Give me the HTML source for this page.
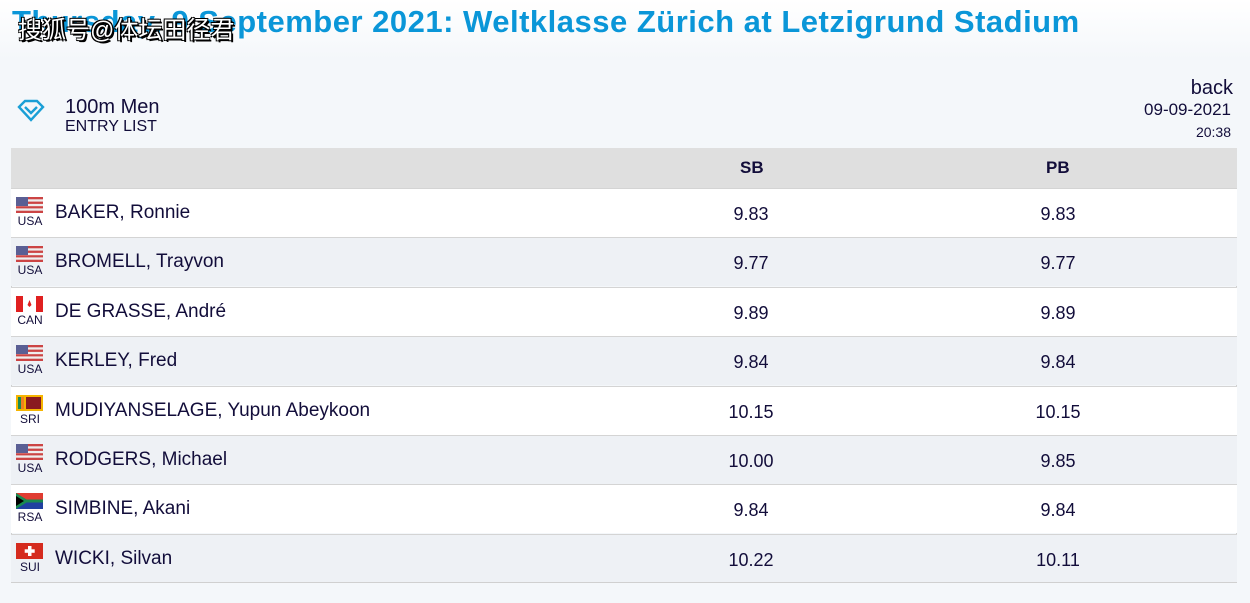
<!DOCTYPE html>
<html><head><meta charset="utf-8"><style>
body{margin:0;width:1250px;height:603px;background:linear-gradient(#ffffff 0,#f4f7fa 60px,#f4f7fa 100%);font-family:"Liberation Sans","Noto Sans CJK SC",sans-serif;color:#120d3a;position:relative;overflow:hidden}
.a{position:absolute;white-space:nowrap}
.title{left:12px;top:4px;font-size:31px;font-weight:bold;color:#0a96d8;letter-spacing:0.5px}
.wm{left:18px;top:10px;font-size:24px;color:#fff;text-shadow:-1px -1px 0 #000,1px -1px 0 #000,-1px 1px 0 #000,1px 1px 0 #000,2px 2px 0 #000}
.row{position:absolute;left:11px;width:1226px;height:49px;border-top:1px solid #d4d4d4;box-sizing:border-box}
.flag{position:absolute;left:5px;top:8px;width:27px;height:16px}
.code{position:absolute;left:4px;top:25px;font-size:12px;width:30px;text-align:center}
.name{position:absolute;left:44px;top:13px;font-size:19px}
.sb,.pb{position:absolute;top:15px;font-size:18px;width:100px;text-align:center}
.sb{left:690px}.pb{left:997px}
</style></head><body>
<div class="a title">Thursday, 9 September 2021: Weltklasse Zürich at Letzigrund Stadium</div>
<div class="a wm">搜狐号@体坛田径君</div>
<svg class="a" style="left:17px;top:99px" width="28" height="24" viewBox="0 0 28 24"><path d="M2 8 L8 2 L20 2 L26 8 L14 21 Z" fill="none" stroke="#1a9fd6" stroke-width="2.4"/><path d="M8 8 L14 14 L20 8" fill="none" stroke="#1a9fd6" stroke-width="2.4"/></svg>
<div class="a" style="left:65px;top:96px;font-size:20px">100m Men</div>
<div class="a" style="left:65px;top:118px;font-size:16px">ENTRY LIST</div>
<div class="a" style="right:17px;top:77px;font-size:20px">back</div>
<div class="a" style="right:19px;top:100px;font-size:17px">09-09-2021</div>
<div class="a" style="right:19px;top:124px;font-size:14px">20:38</div>
<div class="a" style="left:11px;top:148px;width:1226px;height:40px;background:#dfdfdf"></div>
<div class="a" style="left:740px;top:158px;font-size:17px;font-weight:bold">SB</div>
<div class="a" style="left:1046px;top:158px;font-size:17px;font-weight:bold">PB</div>
<div class="a" style="left:11px;top:188px;width:1224px;height:394px;border:1px solid #d0d0d0;border-top:none"></div>

<div class="row" style="top:188px;background:#fff"><svg class="flag" viewBox="0 0 27 16"><rect width="27" height="16" fill="#c44"/><g fill="#eee"><rect y="2.3" width="27" height="2.3"/><rect y="6.9" width="27" height="2.3"/><rect y="11.4" width="27" height="2.3"/></g><rect width="12" height="9" fill="#5a5f94"/></svg><div class="code">USA</div><div class="name">BAKER, Ronnie</div><div class="sb">9.83</div><div class="pb">9.83</div></div>
<div class="row" style="top:237px;background:#eef1f5"><svg class="flag" viewBox="0 0 27 16"><rect width="27" height="16" fill="#c44"/><g fill="#eee"><rect y="2.3" width="27" height="2.3"/><rect y="6.9" width="27" height="2.3"/><rect y="11.4" width="27" height="2.3"/></g><rect width="12" height="9" fill="#5a5f94"/></svg><div class="code">USA</div><div class="name">BROMELL, Trayvon</div><div class="sb">9.77</div><div class="pb">9.77</div></div>
<div class="row" style="top:287px;background:#fff"><svg class="flag" viewBox="0 0 27 16"><rect width="27" height="16" fill="#fff"/><rect width="7" height="16" fill="#e02020"/><rect x="20" width="7" height="16" fill="#e02020"/><path d="M13.5 4 L15.5 9 L13.5 11 L11.5 9Z" fill="#e02020"/></svg><div class="code">CAN</div><div class="name">DE GRASSE, André</div><div class="sb">9.89</div><div class="pb">9.89</div></div>
<div class="row" style="top:336px;background:#eef1f5"><svg class="flag" viewBox="0 0 27 16"><rect width="27" height="16" fill="#c44"/><g fill="#eee"><rect y="2.3" width="27" height="2.3"/><rect y="6.9" width="27" height="2.3"/><rect y="11.4" width="27" height="2.3"/></g><rect width="12" height="9" fill="#5a5f94"/></svg><div class="code">USA</div><div class="name">KERLEY, Fred</div><div class="sb">9.84</div><div class="pb">9.84</div></div>
<div class="row" style="top:386px;background:#fff"><svg class="flag" viewBox="0 0 27 16"><rect width="27" height="16" fill="#f5b400"/><rect x="2" y="2" width="3" height="12" fill="#1a8a50"/><rect x="5" y="2" width="3" height="12" fill="#f08020"/><rect x="10" y="2" width="15" height="12" fill="#8a1a20"/></svg><div class="code">SRI</div><div class="name">MUDIYANSELAGE, Yupun Abeykoon</div><div class="sb">10.15</div><div class="pb">10.15</div></div>
<div class="row" style="top:435px;background:#eef1f5"><svg class="flag" viewBox="0 0 27 16"><rect width="27" height="16" fill="#c44"/><g fill="#eee"><rect y="2.3" width="27" height="2.3"/><rect y="6.9" width="27" height="2.3"/><rect y="11.4" width="27" height="2.3"/></g><rect width="12" height="9" fill="#5a5f94"/></svg><div class="code">USA</div><div class="name">RODGERS, Michael</div><div class="sb">10.00</div><div class="pb">9.85</div></div>
<div class="row" style="top:484px;background:#fff"><svg class="flag" viewBox="0 0 27 16"><rect width="27" height="8" fill="#e03c31"/><rect y="8" width="27" height="8" fill="#2040a0"/><path d="M0 0 L13 8 L0 16Z" fill="#1a8a50"/><path d="M0 3 L8 8 L0 13Z" fill="#000"/><rect x="10" y="6.5" width="17" height="3" fill="#1a8a50"/></svg><div class="code">RSA</div><div class="name">SIMBINE, Akani</div><div class="sb">9.84</div><div class="pb">9.84</div></div>
<div class="row" style="top:534px;background:#eef1f5;height:48px"><svg class="flag" viewBox="0 0 27 16"><rect width="27" height="16" fill="#d52b1e"/><rect x="12" y="3" width="3.5" height="10" fill="#fff"/><rect x="8.7" y="6.3" width="10" height="3.5" fill="#fff"/></svg><div class="code">SUI</div><div class="name">WICKI, Silvan</div><div class="sb">10.22</div><div class="pb">10.11</div></div>
</body></html>
